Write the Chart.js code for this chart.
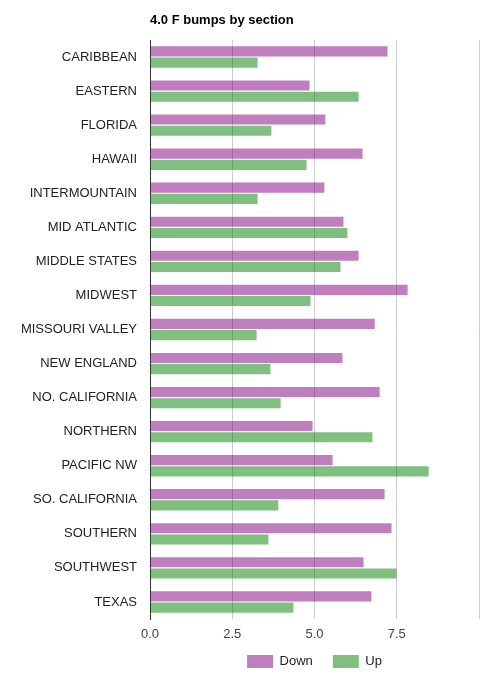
<!DOCTYPE html>
<html>
<head>
<meta charset="utf-8">
<script src="https://cdn.jsdelivr.net/npm/chart.js@4"></script>
<style>
  html, body { margin: 0; padding: 0; background: #fff; }
  #wrap { width: 480px; height: 680px; }
</style>
</head>
<body>
<div id="wrap"><canvas id="bumpsChart"></canvas></div>
<script>
// Data
const chartTitle = "4.0 F bumps by section";
const sections = [
  "CARIBBEAN",
  "EASTERN",
  "FLORIDA",
  "HAWAII",
  "INTERMOUNTAIN",
  "MID ATLANTIC",
  "MIDDLE STATES",
  "MIDWEST",
  "MISSOURI VALLEY",
  "NEW ENGLAND",
  "NO. CALIFORNIA",
  "NORTHERN",
  "PACIFIC NW",
  "SO. CALIFORNIA",
  "SOUTHERN",
  "SOUTHWEST",
  "TEXAS",
];
const downValues = [7.22, 4.85, 5.33, 6.46, 5.3, 5.88, 6.34, 7.83, 6.83, 5.85, 6.98, 4.94, 5.55, 7.13, 7.34, 6.49, 6.73];
const upValues = [3.27, 6.34, 3.69, 4.76, 3.27, 6.0, 5.79, 4.88, 3.24, 3.66, 3.97, 6.76, 8.47, 3.9, 3.6, 7.49, 4.36];
const xTicksShown = [0, 2.5, 5, 7.5];

// Title drawn left-aligned with the plot area, legend nudged up a bit
const titlePlugin = {
  id: "sectionTitle",
  afterLayout(chart) {
    chart.legend.top -= 8;
    chart.legend.bottom -= 8;
  },
  afterDraw(chart) {
    const ctx = chart.ctx;
    ctx.save();
    ctx.font = "bold 13px 'Liberation Sans', Arial, sans-serif";
    ctx.fillStyle = "#000";
    ctx.textAlign = "left";
    ctx.textBaseline = "middle";
    ctx.fillText(chartTitle, chart.chartArea.left, 20);
    ctx.restore();
  },
};

function initChart() {
  Chart.defaults.font.family = "'Liberation Sans', Arial, sans-serif";
  Chart.defaults.font.size = 13;
  Chart.defaults.color = "#222";

  const ctx = document.getElementById("bumpsChart").getContext("2d");
  new Chart(ctx, {
    type: "bar",
    data: {
      labels: sections,
      datasets: [
        {
          label: "Down",
          data: downValues,
          backgroundColor: "rgba(128, 0, 128, 0.5)",
          borderWidth: 0,
          categoryPercentage: 0.66,
          barPercentage: 0.9,
        },
        {
          label: "Up",
          data: upValues,
          backgroundColor: "rgba(0, 128, 0, 0.5)",
          borderWidth: 0,
          categoryPercentage: 0.66,
          barPercentage: 0.9,
        },
      ],
    },
    options: {
      indexAxis: "y",
      responsive: true,
      maintainAspectRatio: false,
      animation: false,
      layout: {
        padding: { top: 40, right: 1, left: 0, bottom: -6 },
      },
      plugins: {
        legend: {
          position: "bottom",
          fullSize: false,
          labels: {
            boxWidth: 26,
            boxHeight: 13,
            padding: 20,
            color: "#222",
          },
        },
        tooltip: { enabled: false },
      },
      scales: {
        x: {
          min: 0,
          max: 10,
          border: { display: false },
          grid: {
            color: "#cccccc",
            drawTicks: false,
          },
          ticks: {
            stepSize: 2.5,
            padding: 8,
            color: "#444",
            maxRotation: 0,
            callback: (value) => (xTicksShown.includes(value) ? value.toFixed(1) : ""),
          },
          afterFit: (scale) => {
            scale.height = 24;
            scale.paddingRight = 0;
          },
        },
        y: {
          border: { display: true, color: "#333", width: 1 },
          grid: { display: false },
          ticks: {
            padding: 5,
            color: "#222",
            autoSkip: false,
          },
          afterFit: (scale) => {
            scale.width = 150;
          },
        },
      },
    },
    plugins: [titlePlugin],
  });
}

if (document.readyState === "complete") {
  initChart();
} else {
  document.addEventListener("DOMContentLoaded", initChart);
}
</script>
</body>
</html>
